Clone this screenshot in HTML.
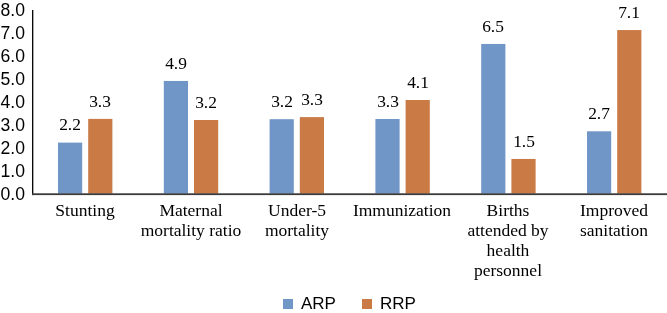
<!DOCTYPE html>
<html><head><meta charset="utf-8"><style>
*{-webkit-font-smoothing:antialiased;}
.sans,.serif{will-change:transform;}
html,body{margin:0;padding:0;background:#fff;}
body{width:667px;height:313px;position:relative;overflow:hidden;}
.a{position:absolute;}
.sans{font-family:"Liberation Sans",sans-serif;color:#000;}
.serif{font-family:"Liberation Serif",serif;color:#000;}
.yl{width:40px;text-align:right;white-space:nowrap;}
.dl{width:60px;text-align:center;white-space:nowrap;}
.cl{width:120px;text-align:center;white-space:nowrap;}
</style></head><body>

<svg class="a" style="left:0;top:0" width="667" height="313" viewBox="0 0 667 313"><rect x="58.00" y="142.60" width="24.20" height="51.00" fill="#7096c8"/><rect x="88.20" y="118.90" width="24.20" height="74.70" fill="#c97a45"/><rect x="163.80" y="80.95" width="24.20" height="112.65" fill="#7096c8"/><rect x="194.00" y="120.00" width="24.20" height="73.60" fill="#c97a45"/><rect x="269.60" y="119.20" width="24.20" height="74.40" fill="#7096c8"/><rect x="299.80" y="117.10" width="24.20" height="76.50" fill="#c97a45"/><rect x="375.40" y="119.00" width="24.20" height="74.60" fill="#7096c8"/><rect x="405.60" y="100.00" width="24.20" height="93.60" fill="#c97a45"/><rect x="481.20" y="43.95" width="24.20" height="149.65" fill="#7096c8"/><rect x="511.40" y="158.95" width="24.20" height="34.65" fill="#c97a45"/><rect x="587.00" y="131.30" width="24.20" height="62.30" fill="#7096c8"/><rect x="617.20" y="30.07" width="24.20" height="163.53" fill="#c97a45"/><rect x="32.00" y="10.00" width="1.35" height="185.10" fill="#0a0a0a"/><rect x="32.00" y="193.30" width="635.00" height="1.80" fill="#3a3a3a"/></svg>
<div class="a sans yl" style="left:-15.40px;top:183.64px;height:21.12px;line-height:21.12px;font-size:17.6px">0.0</div>
<div class="a sans yl" style="left:-15.40px;top:160.64px;height:21.12px;line-height:21.12px;font-size:17.6px">1.0</div>
<div class="a sans yl" style="left:-15.40px;top:137.64px;height:21.12px;line-height:21.12px;font-size:17.6px">2.0</div>
<div class="a sans yl" style="left:-15.40px;top:114.64px;height:21.12px;line-height:21.12px;font-size:17.6px">3.0</div>
<div class="a sans yl" style="left:-15.40px;top:91.64px;height:21.12px;line-height:21.12px;font-size:17.6px">4.0</div>
<div class="a sans yl" style="left:-15.40px;top:68.64px;height:21.12px;line-height:21.12px;font-size:17.6px">5.0</div>
<div class="a sans yl" style="left:-15.40px;top:45.64px;height:21.12px;line-height:21.12px;font-size:17.6px">6.0</div>
<div class="a sans yl" style="left:-15.40px;top:22.64px;height:21.12px;line-height:21.12px;font-size:17.6px">7.0</div>
<div class="a sans yl" style="left:-15.40px;top:-0.36px;height:21.12px;line-height:21.12px;font-size:17.6px">8.0</div>
<div class="a serif dl" style="left:40.10px;top:114.42px;height:20.01px;line-height:20.01px;font-size:17.4px">2.2</div>
<div class="a serif dl" style="left:70.30px;top:90.72px;height:20.01px;line-height:20.01px;font-size:17.4px">3.3</div>
<div class="a serif dl" style="left:145.90px;top:52.77px;height:20.01px;line-height:20.01px;font-size:17.4px">4.9</div>
<div class="a serif dl" style="left:176.10px;top:91.82px;height:20.01px;line-height:20.01px;font-size:17.4px">3.2</div>
<div class="a serif dl" style="left:251.70px;top:91.02px;height:20.01px;line-height:20.01px;font-size:17.4px">3.2</div>
<div class="a serif dl" style="left:281.90px;top:88.92px;height:20.01px;line-height:20.01px;font-size:17.4px">3.3</div>
<div class="a serif dl" style="left:357.50px;top:90.82px;height:20.01px;line-height:20.01px;font-size:17.4px">3.3</div>
<div class="a serif dl" style="left:387.70px;top:71.82px;height:20.01px;line-height:20.01px;font-size:17.4px">4.1</div>
<div class="a serif dl" style="left:463.30px;top:15.77px;height:20.01px;line-height:20.01px;font-size:17.4px">6.5</div>
<div class="a serif dl" style="left:493.50px;top:130.77px;height:20.01px;line-height:20.01px;font-size:17.4px">1.5</div>
<div class="a serif dl" style="left:569.10px;top:103.12px;height:20.01px;line-height:20.01px;font-size:17.4px">2.7</div>
<div class="a serif dl" style="left:599.30px;top:1.89px;height:20.01px;line-height:20.01px;font-size:17.4px">7.1</div>
<div class="a serif cl" style="left:24.90px;top:199.53px;height:20.12px;line-height:20.12px;font-size:17.5px">Stunting</div>
<div class="a serif cl" style="left:130.70px;top:199.53px;height:20.12px;line-height:20.12px;font-size:17.5px">Maternal</div>
<div class="a serif cl" style="left:130.70px;top:219.61px;height:20.12px;line-height:20.12px;font-size:17.5px">mortality ratio</div>
<div class="a serif cl" style="left:236.50px;top:199.53px;height:20.12px;line-height:20.12px;font-size:17.5px">Under-5</div>
<div class="a serif cl" style="left:236.50px;top:219.61px;height:20.12px;line-height:20.12px;font-size:17.5px">mortality</div>
<div class="a serif cl" style="left:342.30px;top:199.53px;height:20.12px;line-height:20.12px;font-size:17.5px">Immunization</div>
<div class="a serif cl" style="left:448.10px;top:199.53px;height:20.12px;line-height:20.12px;font-size:17.5px">Births</div>
<div class="a serif cl" style="left:448.10px;top:219.61px;height:20.12px;line-height:20.12px;font-size:17.5px">attended by</div>
<div class="a serif cl" style="left:448.10px;top:239.69px;height:20.12px;line-height:20.12px;font-size:17.5px">health</div>
<div class="a serif cl" style="left:448.10px;top:259.77px;height:20.12px;line-height:20.12px;font-size:17.5px">personnel</div>
<div class="a serif cl" style="left:553.90px;top:199.53px;height:20.12px;line-height:20.12px;font-size:17.5px">Improved</div>
<div class="a serif cl" style="left:553.90px;top:219.61px;height:20.12px;line-height:20.12px;font-size:17.5px">sanitation</div>
<div class="a" style="left:283px;top:299px;width:10px;height:10px;background:#7096c8"></div>
<div class="a sans" style="left:301px;top:293.8px;line-height:20px;font-size:17.0px">ARP</div>
<div class="a" style="left:362px;top:299px;width:10px;height:10px;background:#c97a45"></div>
<div class="a sans" style="left:379.6px;top:293.8px;line-height:20px;font-size:17.0px">RRP</div>
</body></html>
